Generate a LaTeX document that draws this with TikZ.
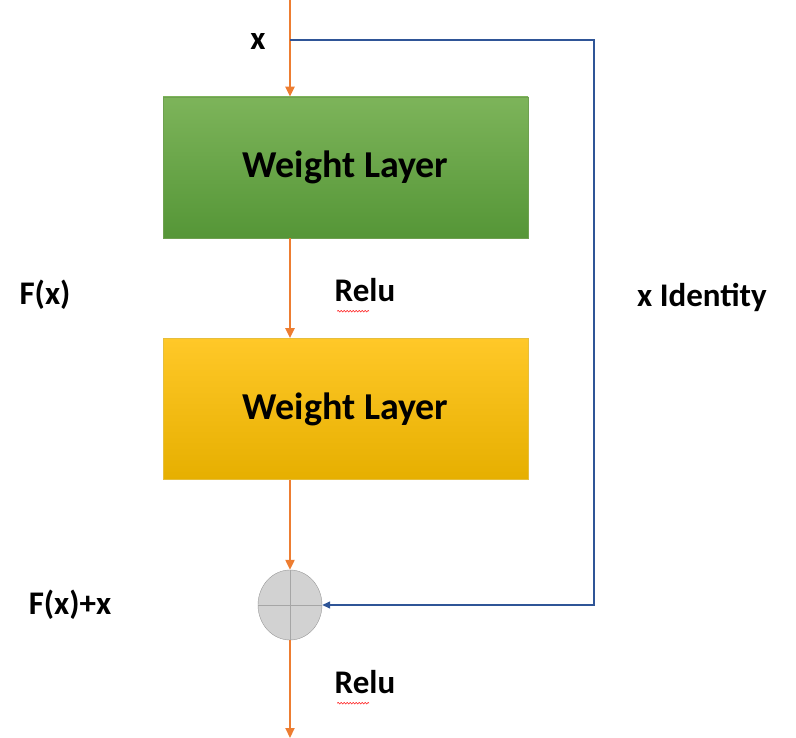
\documentclass[tikz,border=0pt]{standalone}
\usepackage{fontspec}
\setmainfont{Carlito}
\usetikzlibrary{arrows.meta,decorations.pathmorphing,shapes.geometric}
\definecolor{org}{RGB}{237,125,49}
\definecolor{blu}{RGB}{47,85,151}
\begin{document}
\begin{tikzpicture}[x=1pt,y=-1pt,
  lbl/.style={font=\bfseries\fontsize{33}{35}\selectfont},
  big/.style={font=\bfseries\fontsize{38}{40}\selectfont},
  box/.style={minimum width=365pt,minimum height=141pt,inner sep=0pt,line width=0.6pt},
  oa/.style={draw=org,line width=2.2pt,-{Triangle[length=10pt,width=9pt]}},
  ba/.style={draw=blu,line width=1.4pt,-{Triangle[length=8pt,width=7pt]}},
  squig/.style={red,line width=0.5pt,decorate,decoration={snake,amplitude=0.8pt,segment length=3pt}}]
\useasboundingbox (0,0) rectangle (796,738);
\node[box,top color={rgb,255:red,125;green,180;blue,90},bottom color={rgb,255:red,85;green,150;blue,55},
  draw={rgb,255:red,110;green,160;blue,80}] (g) at (345.5,167.5) {};
\node[big] (gt) at (g) {Weight Layer};
\node[box,top color={rgb,255:red,255;green,200;blue,40},bottom color={rgb,255:red,230;green,175;blue,0},
  draw={rgb,255:red,230;green,190;blue,60}] (y) at (345.5,409) {};
\node[big] (yt) at (y) {Weight Layer};
\node[ellipse,minimum width=64pt,minimum height=70pt,inner sep=0pt,draw=gray!80,fill=gray!35] (c) at (290,605) {};
\draw[gray!70,line width=1pt] (c.north) -- (c.south) (c.west) -- (c.east);
\coordinate (top) at (290,0);
\coordinate (bot) at (290,738);
\coordinate (split) at (290,40);
\coordinate (r1) at (594,40);
\coordinate (r2) at (594,605);
\draw[oa] (top) -- (top |- g.north);
\draw[oa] (top |- g.south) -- (top |- y.north);
\draw[oa] (top |- y.south) -- (c.north);
\draw[oa] (c.south) -- (bot);
\draw[ba] (split) -- (r1) -- (r2) -- (c.east);
\node[lbl] (tx) at (258,42) {x};
\node[lbl] (tf) at (45,295) {F(x)};
\node[lbl] (tr1) at (365,290) {Relu};
\node[lbl] (ti) at (702,297) {x Identity};
\node[lbl] (tfx) at (70,605) {F(x)+x};
\node[lbl] (tr2) at (365,682) {Relu};
\draw[squig] ([xshift=6pt,yshift=-6pt]tr1.south west) -- ++(32,0);
\draw[squig] ([xshift=6pt,yshift=-6pt]tr2.south west) -- ++(32,0);
\end{tikzpicture}
\end{document}
